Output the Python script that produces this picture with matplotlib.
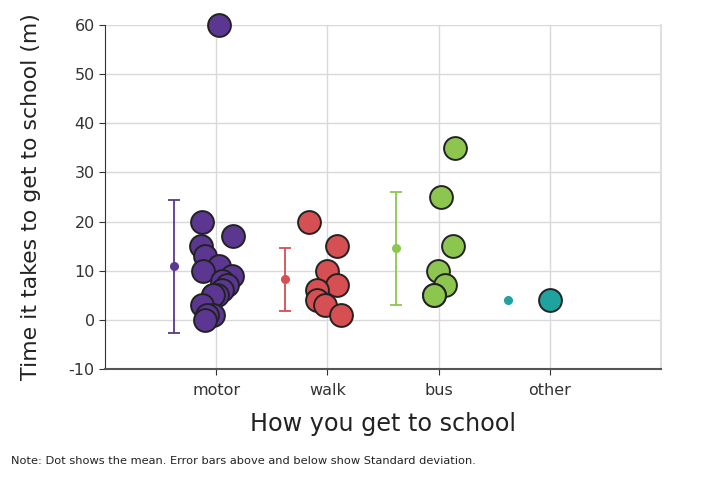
import numpy as np
import matplotlib
matplotlib.use('Agg')
import matplotlib.pyplot as plt

plt.rcParams['axes.unicode_minus'] = False
plt.rcParams['font.family'] = 'DejaVu Sans'

categories = ['motor', 'walk', 'bus', 'other']
colors = ['#5b3791', '#d64f52', '#8cc64f', '#1fa39f']

# minutes to get to school, per transport mode
motor = [60, 20, 17, 15, 13, 11, 10, 9, 8, 7, 6, 5, 5, 5, 3, 1, 1, 0]
walk = [20, 15, 10, 7, 6, 4, 3, 1]
bus = [35, 25, 15, 10, 7, 5, 5]
other = [4]

# horizontal jitter of each dot
motor_jitter = [0.02, -0.13, 0.15, -0.14, -0.10, 0.02, -0.12, 0.14, 0.05,
                0.10, 0.05, -0.03, 0.01, -0.03, -0.13, -0.03, -0.08, -0.10]
walk_jitter = [-0.17, 0.09, 0.0, 0.09, -0.09, -0.09, -0.02, 0.12]
bus_jitter = [0.15, 0.02, 0.13, -0.01, 0.06, -0.04, -0.04]
other_jitter = [0.0]

groups = [motor, walk, bus, other]
jitters = [motor_jitter, walk_jitter, bus_jitter, other_jitter]

fig = plt.figure(figsize=(7.2, 4.99), dpi=100)
ax = fig.add_axes([0.146, 0.2605, 0.772, 0.6895])

for i, (vals, jit, c) in enumerate(zip(groups, jitters, colors)):
    vals = np.array(vals, dtype=float)
    x = i + np.array(jit)
    ax.scatter(x, vals, s=270, color=c, edgecolor='#222222', linewidth=1.4,
               zorder=3, clip_on=False)
    m = vals.mean()
    if len(vals) > 1:
        sd = vals.std(ddof=1)
        ax.errorbar(i - 0.38, m, yerr=sd, fmt='o', color=c, ms=5.5,
                    capsize=4.5, elinewidth=1.3, capthick=1.3, zorder=3)
    else:
        ax.plot(i - 0.38, m, 'o', color=c, ms=5.5, zorder=3)

ax.set_xlim(-1, 4)
ax.set_ylim(-10, 60)
ax.set_xticks(range(len(categories)))
ax.set_xticklabels(categories)
ax.set_yticks(range(-10, 61, 10))
ax.grid(True, color='#d9d9d9', linewidth=1)
ax.set_axisbelow(True)

ax.spines['top'].set_visible(False)
ax.spines['right'].set_color('#e0e0e0')
ax.spines['right'].set_linewidth(1.5)
ax.spines['left'].set_color('#333333')
ax.spines['bottom'].set_color('#555555')
ax.spines['bottom'].set_linewidth(1.5)
ax.tick_params(axis='both', colors='#333333', labelsize=11.5, length=4)
ax.tick_params(axis='x', pad=6)

ax.set_xlabel('How you get to school', fontsize=17.2, color='#222222', labelpad=10)
ax.set_ylabel('Time it takes to get to school (m)', fontsize=15.8, color='#222222',
              labelpad=20)

fig.text(0.015, 0.07, 'Note: Dot shows the mean. Error bars above and below show Standard deviation.',
         fontsize=8.2, color='#222222')

fig.savefig('out.png', dpi=100)
